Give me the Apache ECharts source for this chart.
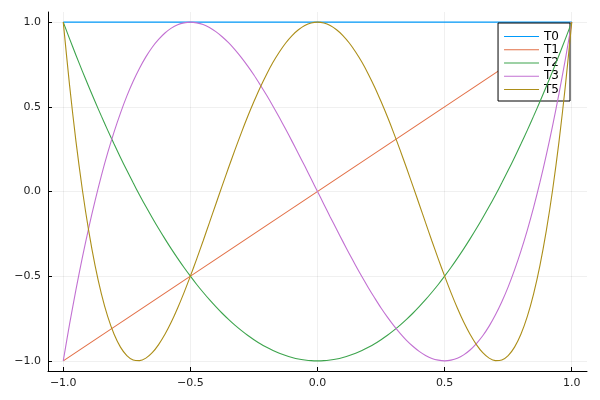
<!DOCTYPE html>
<html>
<head>
<meta charset="utf-8">
<script src="https://cdn.jsdelivr.net/npm/echarts@6/dist/echarts.min.js"></script>
<style>html,body{margin:0;padding:0;background:#fff}#c{width:600px;height:400px}</style>
</head>
<body>
<div id="c"></div>
<script>
const xs = [-1,-0.975,-0.95,-0.925,-0.9,-0.875,-0.85,-0.825,-0.8,-0.775,-0.75,-0.725,-0.7,-0.675,-0.65,-0.625,-0.6,-0.575,-0.55,-0.525,-0.5,-0.475,-0.45,-0.425,-0.4,-0.375,-0.35,-0.325,-0.3,-0.275,-0.25,-0.225,-0.2,-0.175,-0.15,-0.125,-0.1,-0.075,-0.05,-0.025,0,0.025,0.05,0.075,0.1,0.125,0.15,0.175,0.2,0.225,0.25,0.275,0.3,0.325,0.35,0.375,0.4,0.425,0.45,0.475,0.5,0.525,0.55,0.575,0.6,0.625,0.65,0.675,0.7,0.725,0.75,0.775,0.8,0.825,0.85,0.875,0.9,0.925,0.95,0.975,1];
const t0x = [-1, 1];
const t0 = [1, 1];
const t1x = [-1, 1];
const t1 = [-1, 1];
const t2 = [1,0.901,0.805,0.711,0.62,0.531,0.445,0.361,0.28,0.201,0.125,0.051,-0.02,-0.089,-0.155,-0.219,-0.28,-0.339,-0.395,-0.449,-0.5,-0.549,-0.595,-0.639,-0.68,-0.719,-0.755,-0.789,-0.82,-0.849,-0.875,-0.899,-0.92,-0.939,-0.955,-0.969,-0.98,-0.989,-0.995,-0.999,-1,-0.999,-0.995,-0.989,-0.98,-0.969,-0.955,-0.939,-0.92,-0.899,-0.875,-0.849,-0.82,-0.789,-0.755,-0.719,-0.68,-0.639,-0.595,-0.549,-0.5,-0.449,-0.395,-0.339,-0.28,-0.219,-0.155,-0.089,-0.02,0.051,0.125,0.201,0.28,0.361,0.445,0.531,0.62,0.711,0.805,0.901,1];
const t3 = [-1,-0.782,-0.58,-0.391,-0.216,-0.055,0.094,0.229,0.352,0.463,0.563,0.651,0.728,0.795,0.852,0.898,0.936,0.965,0.985,0.996,1,0.996,0.986,0.968,0.944,0.914,0.879,0.838,0.792,0.742,0.688,0.629,0.568,0.504,0.437,0.367,0.296,0.223,0.15,0.075,0,-0.075,-0.15,-0.223,-0.296,-0.367,-0.437,-0.504,-0.568,-0.629,-0.688,-0.742,-0.792,-0.838,-0.879,-0.914,-0.944,-0.968,-0.986,-0.996,-1,-0.996,-0.985,-0.965,-0.936,-0.898,-0.852,-0.795,-0.728,-0.651,-0.563,-0.463,-0.352,-0.229,-0.094,0.055,0.216,0.391,0.58,0.782,1];
const t5 = [1,0.625,0.296,0.012,-0.231,-0.436,-0.604,-0.739,-0.843,-0.919,-0.969,-0.995,-0.999,-0.984,-0.952,-0.904,-0.843,-0.771,-0.688,-0.597,-0.5,-0.398,-0.292,-0.184,-0.075,0.033,0.14,0.244,0.345,0.441,0.531,0.616,0.693,0.763,0.824,0.877,0.921,0.955,0.98,0.995,1,0.995,0.98,0.955,0.921,0.877,0.824,0.763,0.693,0.616,0.531,0.441,0.345,0.244,0.14,0.033,-0.075,-0.184,-0.292,-0.398,-0.5,-0.597,-0.688,-0.771,-0.843,-0.904,-0.952,-0.984,-0.999,-0.995,-0.969,-0.919,-0.843,-0.739,-0.604,-0.436,-0.231,0.012,0.296,0.625,1];
const tickVals = [-1, -0.5, 0, 0.5, 1];
const names = ['T0','T1','T2','T3','T5'];
const colors = ['#009AFA','#E26F46','#3DA44D','#C271D2','#AC8E18'];

const zip = (a, b) => a.map((v, i) => [v, b[i]]);
const fmt = v => v.toFixed(1).replace('-', '\u2212');
const font = 'DejaVu Sans';

function axis(min, max) {
  return {
    type: 'value', min: min, max: max,
    axisLine: { show: true, onZero: false, lineStyle: { color: '#000', width: 1 } },
    axisTick: { show: true, inside: true, length: 4, customValues: tickVals, lineStyle: { color: '#000' } },
    axisLabel: { customValues: tickVals, formatter: fmt, color: '#222', fontFamily: font, fontSize: 11, margin: 7 },
    splitLine: { show: true, lineStyle: { color: '#000', opacity: 0.06, width: 1 } }
  };
}

const data = [zip(t0x, t0), zip(t1x, t1), zip(xs, t2), zip(xs, t3), zip(xs, t5)];
const chart = echarts.init(document.getElementById('c'), null, { renderer: 'canvas' });
chart.setOption({
  animation: false,
  backgroundColor: '#fff',
  grid: { left: 48, right: 13, top: 12, bottom: 29 },
  xAxis: axis(-1.06, 1.06),
  yAxis: axis(-1.06, 1.06),
  legend: {
    right: 30, top: 23,
    orient: 'vertical',
    backgroundColor: '#fff',
    borderColor: '#000', borderWidth: 1, borderRadius: 0,
    padding: [7, 11, 5, 6],
    icon: 'rect',
    itemWidth: 35, itemHeight: 1.2, itemGap: 0.25,
    textStyle: { fontFamily: font, fontSize: 12, lineHeight: 13, color: '#000' },
    data: names
  },
  series: names.map((n, i) => ({
    name: n, type: 'line', data: data[i], showSymbol: false, symbol: 'none',
    smooth: i >= 2 ? 0.3 : false,
    lineStyle: { color: colors[i], width: 1.1 },
    itemStyle: { color: colors[i] },
    z: 2 + i
  }))
});
</script>
</body>
</html>
